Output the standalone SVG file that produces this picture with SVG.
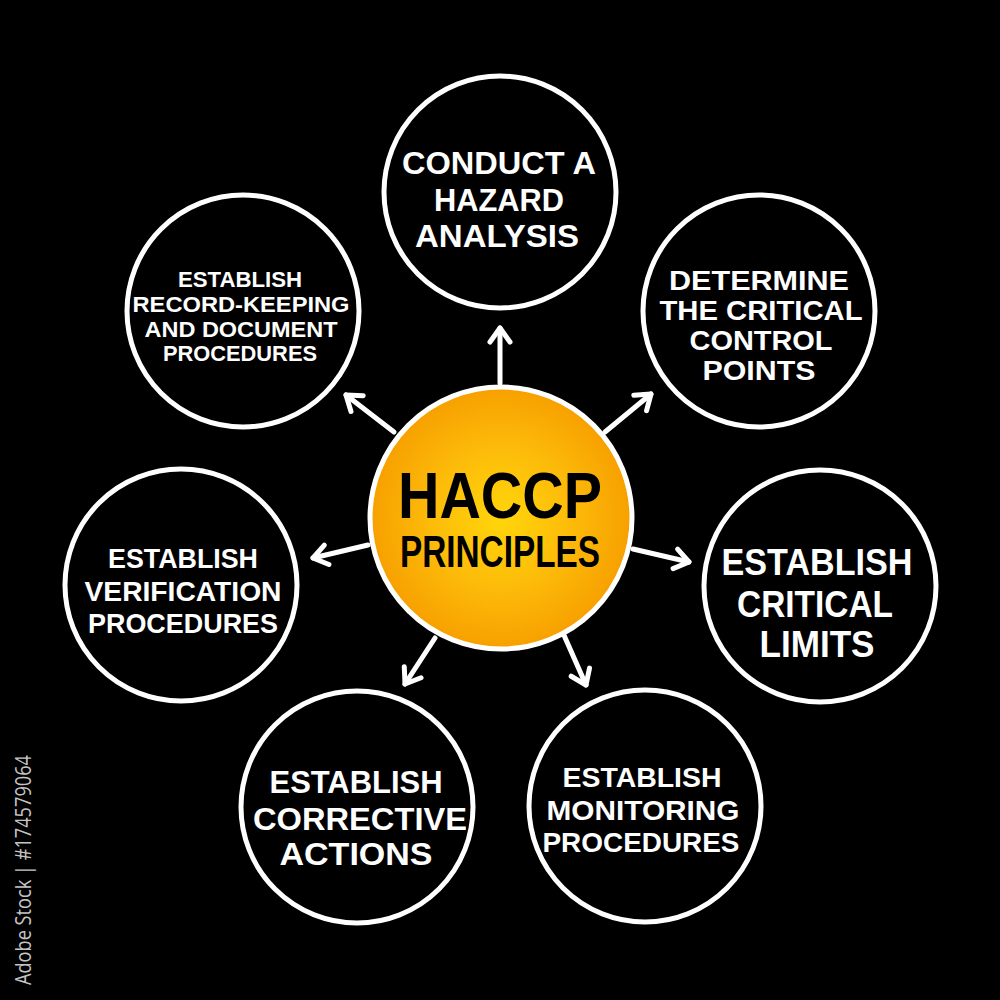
<svg xmlns="http://www.w3.org/2000/svg" width="1000" height="1000" viewBox="0 0 1000 1000">
<style>
.node{fill:#000;stroke:#fff;stroke-width:5}
.lbl{fill:#fff;font-family:"Liberation Sans",Arial,sans-serif;font-weight:bold;text-anchor:middle}
.ctr{fill:#000;font-family:"Liberation Sans",Arial,sans-serif;font-weight:bold;text-anchor:middle}
.conn{stroke:#fff;stroke-width:5;stroke-linecap:round;fill:none}
</style>
<defs>
<radialGradient id="og" cx="0.5" cy="0.5" r="0.5">
<stop offset="0" stop-color="#FFD60A"/>
<stop offset="0.5" stop-color="#FDBD0A"/>
<stop offset="1" stop-color="#F7A000"/>
</radialGradient>
<marker id="ah" markerUnits="userSpaceOnUse" markerWidth="34" markerHeight="34" viewBox="-17 -17 34 34" refX="0" refY="0" orient="auto">
<path d="M -14 -10 L 0 0 L -14 10" fill="none" stroke="#fff" stroke-width="5" stroke-linecap="round" stroke-linejoin="round"/>
</marker>
</defs>
<rect width="1000" height="1000" fill="#000"/>

<g id="connectors">
<line class="conn" x1="500" y1="383" x2="500" y2="328" marker-end="url(#ah)"/>
<line class="conn" x1="605" y1="432" x2="651" y2="394" marker-end="url(#ah)"/>
<line class="conn" x1="633" y1="549" x2="689" y2="562" marker-end="url(#ah)"/>
<line class="conn" x1="563" y1="633" x2="586" y2="685" marker-end="url(#ah)"/>
<line class="conn" x1="435" y1="638" x2="405" y2="684" marker-end="url(#ah)"/>
<line class="conn" x1="368" y1="545" x2="313" y2="558" marker-end="url(#ah)"/>
<line class="conn" x1="394" y1="432" x2="346" y2="395" marker-end="url(#ah)"/>
</g>

<g id="center">
<circle cx="501" cy="518" r="131" fill="url(#og)" stroke="#fff" stroke-width="5"/>
<text class="ctr" x="500" y="518" font-size="64" textLength="204" lengthAdjust="spacingAndGlyphs">HACCP</text>
<text class="ctr" x="500" y="567" font-size="44" textLength="200" lengthAdjust="spacingAndGlyphs">PRINCIPLES</text>
</g>

<g id="hazard">
<circle class="node" cx="500" cy="192" r="116"/>
<text class="lbl" x="499" y="174" font-size="32" textLength="194" lengthAdjust="spacingAndGlyphs">CONDUCT A</text>
<text class="lbl" x="499" y="211" font-size="32" textLength="130" lengthAdjust="spacingAndGlyphs">HAZARD</text>
<text class="lbl" x="497" y="247" font-size="32" textLength="164" lengthAdjust="spacingAndGlyphs">ANALYSIS</text>
</g>

<g id="ccp">
<circle class="node" cx="759" cy="311" r="116"/>
<text class="lbl" x="759" y="290" font-size="27" textLength="180" lengthAdjust="spacingAndGlyphs">DETERMINE</text>
<text class="lbl" x="761" y="320" font-size="27" textLength="203" lengthAdjust="spacingAndGlyphs">THE CRITICAL</text>
<text class="lbl" x="761" y="350" font-size="27" textLength="143" lengthAdjust="spacingAndGlyphs">CONTROL</text>
<text class="lbl" x="759" y="380" font-size="27" textLength="113" lengthAdjust="spacingAndGlyphs">POINTS</text>
</g>

<g id="limits">
<circle class="node" cx="820" cy="586" r="116"/>
<text class="lbl" x="817" y="575" font-size="36" textLength="191" lengthAdjust="spacingAndGlyphs">ESTABLISH</text>
<text class="lbl" x="815" y="617" font-size="36" textLength="156" lengthAdjust="spacingAndGlyphs">CRITICAL</text>
<text class="lbl" x="817" y="657" font-size="36" textLength="115" lengthAdjust="spacingAndGlyphs">LIMITS</text>
</g>

<g id="monitoring">
<circle class="node" cx="645" cy="806" r="116"/>
<text class="lbl" x="642" y="787" font-size="28" textLength="159" lengthAdjust="spacingAndGlyphs">ESTABLISH</text>
<text class="lbl" x="643" y="820" font-size="28" textLength="193" lengthAdjust="spacingAndGlyphs">MONITORING</text>
<text class="lbl" x="641" y="852" font-size="28" textLength="197" lengthAdjust="spacingAndGlyphs">PROCEDURES</text>
</g>

<g id="corrective">
<circle class="node" cx="357" cy="807" r="116"/>
<text class="lbl" x="356" y="793" font-size="31" textLength="173" lengthAdjust="spacingAndGlyphs">ESTABLISH</text>
<text class="lbl" x="360" y="830" font-size="31" textLength="214" lengthAdjust="spacingAndGlyphs">CORRECTIVE</text>
<text class="lbl" x="356" y="865" font-size="31" textLength="153" lengthAdjust="spacingAndGlyphs">ACTIONS</text>
</g>

<g id="verification">
<circle class="node" cx="181" cy="585" r="116"/>
<text class="lbl" x="183" y="568" font-size="28" textLength="150" lengthAdjust="spacingAndGlyphs">ESTABLISH</text>
<text class="lbl" x="183" y="601" font-size="28" textLength="197" lengthAdjust="spacingAndGlyphs">VERIFICATION</text>
<text class="lbl" x="183" y="633" font-size="28" textLength="190" lengthAdjust="spacingAndGlyphs">PROCEDURES</text>
</g>

<g id="recordkeeping">
<circle class="node" cx="243" cy="311" r="116"/>
<text class="lbl" x="240" y="287" font-size="22" textLength="124" lengthAdjust="spacingAndGlyphs">ESTABLISH</text>
<text class="lbl" x="241" y="312" font-size="22" textLength="217" lengthAdjust="spacingAndGlyphs">RECORD-KEEPING</text>
<text class="lbl" x="241" y="337" font-size="22" textLength="193" lengthAdjust="spacingAndGlyphs">AND DOCUMENT</text>
<text class="lbl" x="240" y="361" font-size="22" textLength="154" lengthAdjust="spacingAndGlyphs">PROCEDURES</text>
</g>

<text transform="translate(31,985) rotate(-90)" font-family="'Open Sans','Liberation Sans',sans-serif" font-size="22" fill="#c4c4c4" textLength="230" lengthAdjust="spacingAndGlyphs">Adobe Stock | #174579064</text>
</svg>
